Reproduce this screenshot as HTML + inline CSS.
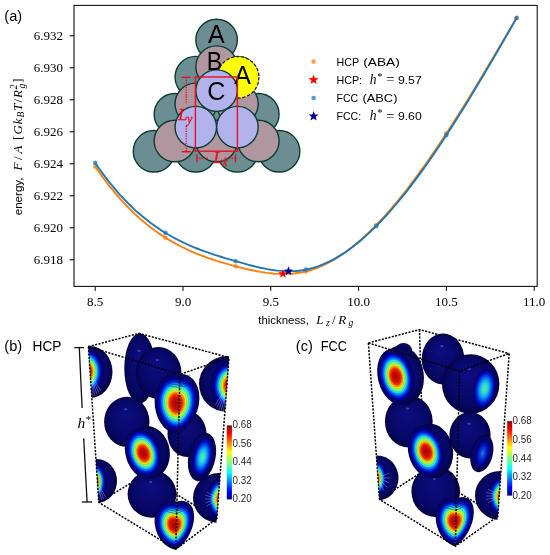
<!DOCTYPE html>
<html><head><meta charset="utf-8"><title>figure</title>
<style>html,body{margin:0;padding:0;background:#fff}svg{display:block}</style>
</head><body>
<svg width="550" height="555" viewBox="0 0 550 555">
<defs>
<radialGradient id="nv" cx="0.5" cy="0.5" r="0.5" fx="0.45" fy="0.32">
<stop offset="0" stop-color="#0e0e82"/><stop offset="0.4" stop-color="#0a0a74"/><stop offset="0.78" stop-color="#070766"/><stop offset="1" stop-color="#030344"/>
</radialGradient>
<radialGradient id="jet" cx="0.5" cy="0.5" r="0.5">
<stop offset="0" stop-color="#a80000"/><stop offset="0.17" stop-color="#d00c00"/><stop offset="0.28" stop-color="#f42800"/><stop offset="0.345" stop-color="#ff8c00"/><stop offset="0.415" stop-color="#f0f000"/><stop offset="0.495" stop-color="#80ff80"/><stop offset="0.585" stop-color="#20e0e8"/><stop offset="0.66" stop-color="#0080ff"/><stop offset="0.725" stop-color="#0030e8"/><stop offset="0.80" stop-color="#0000b0"/><stop offset="0.88" stop-color="#04046c"/><stop offset="1" stop-color="#040456"/>
</radialGradient>
<radialGradient id="jetc" cx="0.5" cy="0.5" r="0.5">
<stop offset="0" stop-color="#60e8a0"/><stop offset="0.22" stop-color="#30dcd0"/><stop offset="0.42" stop-color="#10a8f0"/><stop offset="0.6" stop-color="#0058ec"/><stop offset="0.76" stop-color="#0014cc"/><stop offset="0.9" stop-color="#000090"/><stop offset="1" stop-color="#04045c"/>
</radialGradient>
<radialGradient id="jetb" cx="0.5" cy="0.5" r="0.5">
<stop offset="0" stop-color="#2080e0"/><stop offset="0.25" stop-color="#0848d8"/><stop offset="0.55" stop-color="#0018c0"/><stop offset="0.8" stop-color="#00008c"/><stop offset="1" stop-color="#04045c"/>
</radialGradient>
<linearGradient id="cbar" x1="0" y1="0" x2="0" y2="1">
<stop offset="0" stop-color="#800000"/><stop offset="0.11" stop-color="#ff0000"/><stop offset="0.36" stop-color="#ffff00"/><stop offset="0.5" stop-color="#80ff80"/><stop offset="0.64" stop-color="#00ffff"/><stop offset="0.89" stop-color="#0000ff"/><stop offset="1" stop-color="#000080"/>
</linearGradient>
</defs>
<defs><clipPath id="hc1"><polygon points="86.3,315.4 100.9,533.6 160.9,533.6 146.3,315.4"/></clipPath></defs>
<defs><clipPath id="hc2"><polygon points="231.4,325.3 214.4,550.8 154.4,550.8 171.4,325.3"/></clipPath></defs>
<defs><clipPath id="hc3"><polygon points="181.1,323.9 177.3,483.9 97.3,483.9 101.1,323.9"/></clipPath></defs>
<defs><clipPath id="hc4"><polygon points="181.1,323.9 177.3,483.9 257.3,483.9 261.1,323.9"/></clipPath></defs>
<defs><clipPath id="hc5"><polygon points="88.4,346.6 139.0,333.4 229.0,357.5 216.8,518.6 175.8,549.2 98.8,502.4"/></clipPath></defs>
<defs><clipPath id="hc6"><polygon points="178.2,445.6 174.5,605.6 94.5,605.6 98.2,445.6"/></clipPath></defs>
<defs><clipPath id="hc7"><polygon points="178.2,445.6 174.5,605.6 254.5,605.6 258.2,445.6"/></clipPath></defs>
<defs><clipPath id="fc1"><polygon points="366.2,311.7 381.7,530.7 441.7,530.7 426.2,311.7"/></clipPath></defs>
<defs><clipPath id="fc2"><polygon points="511.5,320.9 495.5,549.0 435.5,549.0 451.5,320.9"/></clipPath></defs>
<defs><clipPath id="fc3"><polygon points="368.4,343.0 419.5,329.6 509.2,353.5 497.8,516.4 455.3,546.2 379.5,499.4"/></clipPath></defs>
<defs><clipPath id="fc4"><polygon points="457.9,442.2 453.9,602.2 373.9,602.2 377.9,442.2"/></clipPath></defs>
<defs><clipPath id="fc5"><polygon points="457.9,442.2 453.9,602.2 533.9,602.2 537.9,442.2"/></clipPath></defs>
<rect width="550" height="555" fill="#fff"/>
<circle cx="95.2" cy="166.5" r="2.3" fill="#ff7f0e" fill-opacity="0.75"/>
<circle cx="165.4" cy="237.7" r="2.3" fill="#ff7f0e" fill-opacity="0.75"/>
<circle cx="235.7" cy="266.3" r="2.3" fill="#ff7f0e" fill-opacity="0.75"/>
<circle cx="305.9" cy="271.4" r="2.3" fill="#ff7f0e" fill-opacity="0.75"/>
<circle cx="376.2" cy="225.2" r="2.3" fill="#ff7f0e" fill-opacity="0.75"/>
<circle cx="446.4" cy="133.4" r="2.3" fill="#ff7f0e" fill-opacity="0.75"/>
<circle cx="516.6" cy="17.7" r="2.3" fill="#ff7f0e" fill-opacity="0.75"/>
<polyline points="95.2,166.5 98.7,171.6 102.2,176.5 105.7,181.2 109.2,185.8 112.8,190.1 116.3,194.3 119.8,198.4 123.3,202.3 126.8,206.0 130.3,209.5 133.8,213.0 137.3,216.2 140.9,219.4 144.4,222.3 147.9,225.2 151.4,227.9 154.9,230.6 158.4,233.1 161.9,235.4 165.4,237.7 169.0,239.9 172.5,241.9 176.0,243.9 179.5,245.7 183.0,247.5 186.5,249.2 190.0,250.8 193.5,252.4 197.0,253.8 200.6,255.2 204.1,256.5 207.6,257.8 211.1,259.0 214.6,260.2 218.1,261.3 221.6,262.4 225.1,263.4 228.7,264.4 232.2,265.4 235.7,266.3 239.2,267.2 242.7,268.1 246.2,269.0 249.7,269.8 253.2,270.5 256.8,271.2 260.3,271.9 263.8,272.4 267.3,272.9 270.8,273.3 274.3,273.7 277.8,273.9 281.3,274.0 284.8,274.0 288.4,273.9 291.9,273.7 295.4,273.3 298.9,272.8 302.4,272.2 305.9,271.4 309.4,270.5 312.9,269.3 316.5,268.1 320.0,266.7 323.5,265.1 327.0,263.4 330.5,261.6 334.0,259.6 337.5,257.4 341.0,255.2 344.6,252.7 348.1,250.2 351.6,247.5 355.1,244.7 358.6,241.8 362.1,238.7 365.6,235.5 369.1,232.2 372.6,228.8 376.2,225.2 379.7,221.5 383.2,217.7 386.7,213.8 390.2,209.8 393.7,205.7 397.2,201.5 400.7,197.2 404.3,192.8 407.8,188.3 411.3,183.7 414.8,179.0 418.3,174.3 421.8,169.4 425.3,164.5 428.8,159.5 432.4,154.4 435.9,149.2 439.4,144.0 442.9,138.7 446.4,133.4 449.9,128.0 453.4,122.5 456.9,117.0 460.4,111.4 464.0,105.8 467.5,100.2 471.0,94.5 474.5,88.7 478.0,82.9 481.5,77.1 485.0,71.3 488.5,65.4 492.1,59.5 495.6,53.6 499.1,47.6 502.6,41.7 506.1,35.7 509.6,29.7 513.1,23.7 516.6,17.7" fill="none" stroke="#ff7f0e" stroke-width="1.9" stroke-linejoin="round"/>
<circle cx="95.2" cy="162.9" r="2.3" fill="#1f77b4" fill-opacity="0.75"/>
<circle cx="165.4" cy="232.9" r="2.3" fill="#1f77b4" fill-opacity="0.75"/>
<circle cx="235.7" cy="261.2" r="2.3" fill="#1f77b4" fill-opacity="0.75"/>
<circle cx="305.9" cy="269.6" r="2.3" fill="#1f77b4" fill-opacity="0.75"/>
<circle cx="376.2" cy="226.1" r="2.3" fill="#1f77b4" fill-opacity="0.75"/>
<circle cx="446.4" cy="135.1" r="2.3" fill="#1f77b4" fill-opacity="0.75"/>
<circle cx="516.6" cy="18.0" r="2.3" fill="#1f77b4" fill-opacity="0.75"/>
<polyline points="95.2,162.9 98.7,168.0 102.2,172.9 105.7,177.6 109.2,182.1 112.8,186.4 116.3,190.6 119.8,194.6 123.3,198.4 126.8,202.0 130.3,205.5 133.8,208.9 137.3,212.1 140.9,215.1 144.4,218.0 147.9,220.8 151.4,223.5 154.9,226.0 158.4,228.4 161.9,230.7 165.4,232.9 169.0,235.0 172.5,237.0 176.0,238.9 179.5,240.7 183.0,242.4 186.5,244.0 190.0,245.6 193.5,247.1 197.0,248.5 200.6,249.9 204.1,251.2 207.6,252.4 211.1,253.6 214.6,254.8 218.1,255.9 221.6,257.0 225.1,258.1 228.7,259.1 232.2,260.2 235.7,261.2 239.2,262.2 242.7,263.2 246.2,264.2 249.7,265.1 253.2,266.0 256.8,266.9 260.3,267.7 263.8,268.4 267.3,269.1 270.8,269.7 274.3,270.2 277.8,270.6 281.3,270.9 284.8,271.1 288.4,271.2 291.9,271.1 295.4,271.0 298.9,270.7 302.4,270.2 305.9,269.6 309.4,268.8 312.9,267.9 316.5,266.8 320.0,265.6 323.5,264.2 327.0,262.6 330.5,260.9 334.0,259.1 337.5,257.1 341.0,254.9 344.6,252.7 348.1,250.2 351.6,247.7 355.1,245.0 358.6,242.2 362.1,239.2 365.6,236.1 369.1,232.9 372.6,229.6 376.2,226.1 379.7,222.5 383.2,218.8 386.7,215.0 390.2,211.1 393.7,207.0 397.2,202.9 400.7,198.6 404.3,194.3 407.8,189.8 411.3,185.3 414.8,180.6 418.3,175.9 421.8,171.1 425.3,166.2 428.8,161.2 432.4,156.1 435.9,151.0 439.4,145.7 442.9,140.5 446.4,135.1 449.9,129.7 453.4,124.2 456.9,118.7 460.4,113.1 464.0,107.4 467.5,101.7 471.0,95.9 474.5,90.1 478.0,84.3 481.5,78.4 485.0,72.5 488.5,66.5 492.1,60.6 495.6,54.5 499.1,48.5 502.6,42.4 506.1,36.3 509.6,30.2 513.1,24.1 516.6,18.0" fill="none" stroke="#1f77b4" stroke-width="1.9" stroke-linejoin="round"/>
<polygon points="282.90,268.90 284.11,272.14 287.56,272.29 284.86,274.44 285.78,277.76 282.90,275.86 280.02,277.76 280.94,274.44 278.24,272.29 281.69,272.14" fill="#ff0000"/>
<polygon points="288.50,266.30 289.71,269.54 293.16,269.69 290.46,271.84 291.38,275.16 288.50,273.26 285.62,275.16 286.54,271.84 283.84,269.69 287.29,269.54" fill="#00008b"/>
<rect x="74.0" y="5.4" width="463.20000000000005" height="281.0" fill="none" stroke="#111" stroke-width="1.1"/>
<line x1="69.5" y1="259.8" x2="74.0" y2="259.8" stroke="#000" stroke-width="1"/>
<text x="63" y="264.3" text-anchor="end" font-family="Liberation Serif, serif" font-size="13">6.918</text>
<line x1="69.5" y1="227.8" x2="74.0" y2="227.8" stroke="#000" stroke-width="1"/>
<text x="63" y="232.3" text-anchor="end" font-family="Liberation Serif, serif" font-size="13">6.920</text>
<line x1="69.5" y1="195.8" x2="74.0" y2="195.8" stroke="#000" stroke-width="1"/>
<text x="63" y="200.3" text-anchor="end" font-family="Liberation Serif, serif" font-size="13">6.922</text>
<line x1="69.5" y1="163.8" x2="74.0" y2="163.8" stroke="#000" stroke-width="1"/>
<text x="63" y="168.3" text-anchor="end" font-family="Liberation Serif, serif" font-size="13">6.924</text>
<line x1="69.5" y1="131.8" x2="74.0" y2="131.8" stroke="#000" stroke-width="1"/>
<text x="63" y="136.3" text-anchor="end" font-family="Liberation Serif, serif" font-size="13">6.926</text>
<line x1="69.5" y1="99.8" x2="74.0" y2="99.8" stroke="#000" stroke-width="1"/>
<text x="63" y="104.3" text-anchor="end" font-family="Liberation Serif, serif" font-size="13">6.928</text>
<line x1="69.5" y1="67.8" x2="74.0" y2="67.8" stroke="#000" stroke-width="1"/>
<text x="63" y="72.3" text-anchor="end" font-family="Liberation Serif, serif" font-size="13">6.930</text>
<line x1="69.5" y1="35.8" x2="74.0" y2="35.8" stroke="#000" stroke-width="1"/>
<text x="63" y="40.3" text-anchor="end" font-family="Liberation Serif, serif" font-size="13">6.932</text>
<line x1="95.2" y1="286.4" x2="95.2" y2="290.9" stroke="#000" stroke-width="1"/>
<text x="95.2" y="305.8" text-anchor="middle" font-family="Liberation Serif, serif" font-size="13">8.5</text>
<line x1="183.0" y1="286.4" x2="183.0" y2="290.9" stroke="#000" stroke-width="1"/>
<text x="183.0" y="305.8" text-anchor="middle" font-family="Liberation Serif, serif" font-size="13">9.0</text>
<line x1="270.8" y1="286.4" x2="270.8" y2="290.9" stroke="#000" stroke-width="1"/>
<text x="270.8" y="305.8" text-anchor="middle" font-family="Liberation Serif, serif" font-size="13">9.5</text>
<line x1="358.6" y1="286.4" x2="358.6" y2="290.9" stroke="#000" stroke-width="1"/>
<text x="358.6" y="305.8" text-anchor="middle" font-family="Liberation Serif, serif" font-size="13">10.0</text>
<line x1="446.4" y1="286.4" x2="446.4" y2="290.9" stroke="#000" stroke-width="1"/>
<text x="446.4" y="305.8" text-anchor="middle" font-family="Liberation Serif, serif" font-size="13">10.5</text>
<line x1="534.2" y1="286.4" x2="534.2" y2="290.9" stroke="#000" stroke-width="1"/>
<text x="534.2" y="305.8" text-anchor="middle" font-family="Liberation Serif, serif" font-size="13">11.0</text>
<text x="258.3" y="324.4" font-family="Liberation Sans, sans-serif" font-size="11.4">thickness,</text>
<text x="316.3" y="324.4" font-family="Liberation Serif, serif" font-style="italic" font-size="13" textLength="37" lengthAdjust="spacing">L<tspan font-size="9.5" dy="2">z</tspan><tspan dy="-2" font-style="normal">/</tspan>R<tspan font-size="9.5" dy="2">g</tspan></text>
<g transform="translate(22.3,215.3) rotate(-90)"><text x="0" y="0" font-family="Liberation Sans, sans-serif" font-size="11.4" textLength="37.8" lengthAdjust="spacingAndGlyphs">energy,</text><text x="44.7" y="0" font-family="Liberation Serif, serif" font-style="italic" font-size="13" textLength="25" lengthAdjust="spacing">F<tspan font-style="normal">/</tspan>A</text><text x="75.4" y="0" font-family="Liberation Serif, serif" font-style="italic" font-size="13" textLength="61.5" lengthAdjust="spacing"><tspan font-style="normal">[</tspan>Gk<tspan font-size="9.5" dy="2">B</tspan><tspan dy="-2">T</tspan><tspan font-style="normal">/</tspan>R<tspan font-size="9.5" dy="-5.5">2</tspan><tspan font-size="9.5" dy="8.5" dx="-5">g</tspan><tspan dy="-3" font-style="normal">]</tspan></text></g>
<text x="4.3" y="20.5" font-family="Liberation Sans, sans-serif" font-size="14.6">(a)</text>
<text x="4.3" y="350.8" font-family="Liberation Sans, sans-serif" font-size="14.6">(b)</text>
<text x="32.5" y="350.8" font-family="Liberation Sans, sans-serif" font-size="14.2" textLength="29" lengthAdjust="spacingAndGlyphs">HCP</text>
<text x="295.8" y="350.8" font-family="Liberation Sans, sans-serif" font-size="14.6">(c)</text>
<text x="320.7" y="350.8" font-family="Liberation Sans, sans-serif" font-size="14.2" textLength="26.3" lengthAdjust="spacingAndGlyphs">FCC</text>
<circle cx="313.6" cy="61.6" r="2.3" fill="#ff7f0e" fill-opacity="0.75"/>
<polygon points="313.60,74.60 314.88,78.03 318.55,78.19 315.68,80.47 316.66,84.01 313.60,81.98 310.54,84.01 311.52,80.47 308.65,78.19 312.32,78.03" fill="#ff0000"/>
<circle cx="313.6" cy="98.0" r="2.3" fill="#1f77b4" fill-opacity="0.75"/>
<polygon points="313.60,111.00 314.88,114.43 318.55,114.59 315.68,116.87 316.66,120.41 313.60,118.38 310.54,120.41 311.52,116.87 308.65,114.59 312.32,114.43" fill="#00008b"/>
<text x="336.5" y="65.7" font-family="Liberation Sans, sans-serif" font-size="11.6" textLength="22.6" lengthAdjust="spacingAndGlyphs">HCP</text>
<text x="363.3" y="65.7" font-family="Liberation Sans, sans-serif" font-size="11.6" textLength="36.5" lengthAdjust="spacingAndGlyphs">(ABA)</text>
<text x="336.5" y="102.1" font-family="Liberation Sans, sans-serif" font-size="11.6" textLength="21.6" lengthAdjust="spacingAndGlyphs">FCC</text>
<text x="362.5" y="102.1" font-family="Liberation Sans, sans-serif" font-size="11.6" textLength="34.9" lengthAdjust="spacingAndGlyphs">(ABC)</text>
<text x="336.5" y="83.9" font-family="Liberation Sans, sans-serif" font-size="11.6" textLength="25.6" lengthAdjust="spacingAndGlyphs">HCP:</text>
<text x="369.8" y="83.9" font-family="Liberation Serif, serif" font-style="italic" font-size="13.6">h<tspan font-size="10.5" dy="-4" dx="0.6" font-style="normal">*</tspan></text>
<text x="386.3" y="84.4" font-family="Liberation Serif, serif" font-size="14.5">=</text>
<text x="397.9" y="83.9" font-family="Liberation Sans, sans-serif" font-size="11.6" textLength="23.8" lengthAdjust="spacingAndGlyphs">9.57</text>
<text x="336.5" y="120.3" font-family="Liberation Sans, sans-serif" font-size="11.6" textLength="24.7" lengthAdjust="spacingAndGlyphs">FCC:</text>
<text x="369.8" y="120.3" font-family="Liberation Serif, serif" font-style="italic" font-size="13.6">h<tspan font-size="10.5" dy="-4" dx="0.6" font-style="normal">*</tspan></text>
<text x="386.3" y="120.8" font-family="Liberation Serif, serif" font-size="14.5">=</text>
<text x="397.9" y="120.3" font-family="Liberation Sans, sans-serif" font-size="11.6" textLength="23.8" lengthAdjust="spacingAndGlyphs">9.60</text>
<circle cx="216.6" cy="40.0" r="20.75" fill="#6c8d91" stroke="#0b3d33" stroke-width="1.4" />
<circle cx="195.8" cy="77.1" r="20.75" fill="#6c8d91" stroke="#0b3d33" stroke-width="1.4" />
<circle cx="237.4" cy="77.1" r="20.75" fill="#6c8d91" stroke="#0b3d33" stroke-width="1.4" />
<circle cx="174.9" cy="114.2" r="20.75" fill="#6c8d91" stroke="#0b3d33" stroke-width="1.4" />
<circle cx="216.6" cy="114.2" r="20.75" fill="#6c8d91" stroke="#0b3d33" stroke-width="1.4" />
<circle cx="258.3" cy="114.2" r="20.75" fill="#6c8d91" stroke="#0b3d33" stroke-width="1.4" />
<circle cx="154.0" cy="151.3" r="20.75" fill="#6c8d91" stroke="#0b3d33" stroke-width="1.4" />
<circle cx="195.8" cy="151.3" r="20.75" fill="#6c8d91" stroke="#0b3d33" stroke-width="1.4" />
<circle cx="237.4" cy="151.3" r="20.75" fill="#6c8d91" stroke="#0b3d33" stroke-width="1.4" />
<circle cx="279.1" cy="151.3" r="20.75" fill="#6c8d91" stroke="#0b3d33" stroke-width="1.4" />
<circle cx="216.6" cy="66.6" r="20.75" fill="#b0969f" stroke="#0b3d33" stroke-width="1.4" />
<circle cx="195.8" cy="103.9" r="20.75" fill="#b0969f" stroke="#0b3d33" stroke-width="1.4" />
<circle cx="237.4" cy="103.9" r="20.75" fill="#b0969f" stroke="#0b3d33" stroke-width="1.4" />
<circle cx="174.9" cy="141.0" r="20.75" fill="#b0969f" stroke="#0b3d33" stroke-width="1.4" />
<circle cx="216.6" cy="141.0" r="20.75" fill="#b0969f" stroke="#0b3d33" stroke-width="1.4" />
<circle cx="258.3" cy="141.0" r="20.75" fill="#b0969f" stroke="#0b3d33" stroke-width="1.4" />
<circle cx="238.2" cy="77.3" r="20.75" fill="#ffff00" stroke="#111" stroke-width="1.2" stroke-dasharray="3.2,1.8"/>
<circle cx="216.6" cy="90.6" r="20.75" fill="#b2b2ec" stroke="#0b3d33" stroke-width="1.4" />
<circle cx="195.8" cy="127.1" r="20.75" fill="#b2b2ec" stroke="#0b3d33" stroke-width="1.4" />
<circle cx="237.4" cy="127.1" r="20.75" fill="#b2b2ec" stroke="#0b3d33" stroke-width="1.4" />
<text x="216.4" y="43.3" text-anchor="middle" font-family="Liberation Sans, sans-serif" font-size="25">A</text>
<text x="214.5" y="69.5" text-anchor="middle" font-family="Liberation Sans, sans-serif" font-size="25" textLength="15.5" lengthAdjust="spacingAndGlyphs">B</text>
<text x="242.5" y="84" text-anchor="middle" font-family="Liberation Sans, sans-serif" font-size="25">A</text>
<text x="216.4" y="100" text-anchor="middle" font-family="Liberation Sans, sans-serif" font-size="25">C</text>
<rect x="195.4" y="77.0" width="42" height="74.2" fill="none" stroke="#e81020" stroke-width="1.4"/>
<g stroke="#e81020" stroke-width="1.4" fill="none"><line x1="181.6" y1="77.4" x2="190.6" y2="77.4"/><line x1="181.8" y1="151.7" x2="190.8" y2="151.7"/><line x1="186.3" y1="77.4" x2="186.3" y2="104" stroke-dasharray="1.2,1.2"/><line x1="186.3" y1="126" x2="186.3" y2="151.7" stroke-dasharray="1.2,1.2"/><line x1="196.9" y1="154.3" x2="196.9" y2="162.3"/><line x1="235.6" y1="154.3" x2="235.6" y2="162.3"/><line x1="196.9" y1="158.2" x2="208" y2="158.2" stroke-dasharray="1.2,1.2"/><line x1="224.5" y1="158.2" x2="235.6" y2="158.2" stroke-dasharray="1.2,1.2"/></g>
<text x="178.3" y="119.5" font-family="Liberation Serif, serif" font-style="italic" font-size="16.5" fill="#e81020" stroke="#e81020" stroke-width="0.3">L<tspan font-size="12" dy="3.5" dx="-0.5">y</tspan></text>
<text x="213.6" y="163.4" font-family="Liberation Serif, serif" font-style="italic" font-size="16.5" fill="#e81020" stroke="#e81020" stroke-width="0.3">L<tspan font-size="12" dy="3" dx="-0.5">x</tspan></text>
<polyline points="98.8,502.4 144.2,475.0 216.8,518.6" fill="none" stroke="#000" stroke-width="1.5" stroke-dasharray="2.1,1.35"/>
<polyline points="139.0,333.4 144.2,475.0" fill="none" stroke="#000" stroke-width="1.5" stroke-dasharray="2.1,1.35"/>
<polyline points="88.4,346.6 139.0,333.4 229.0,357.5" fill="none" stroke="#000" stroke-width="1.5" stroke-dasharray="2.1,1.35"/>
<ellipse cx="139.8" cy="368.3" rx="15.5" ry="35" fill="url(#nv)" transform="rotate(0 139.8 368.3)"/>
<ellipse cx="139.0" cy="350.8" rx="1.6" ry="1.1" fill="#5a5ac0" opacity="0.7"/>
<ellipse cx="158.5" cy="373" rx="23" ry="26" fill="url(#nv)" transform="rotate(0 158.5 373)"/>
<ellipse cx="157.3" cy="360.0" rx="1.6" ry="1.1" fill="#5a5ac0" opacity="0.7"/>
<g clip-path="url(#hc1)">
<ellipse cx="90" cy="372" rx="22.5" ry="26" fill="url(#nv)" transform="rotate(0 90 372)"/>
<ellipse cx="86.3" cy="371.5" rx="18.2" ry="24.5" fill="url(#jet)" transform="rotate(0 86.3 371.5)"/>
<ellipse cx="86.3" cy="371.5" rx="3.64" ry="4.90" fill="none" stroke="#000040" stroke-opacity="0.22" stroke-width="0.5" transform="rotate(0 86.3 371.5)"/>
<ellipse cx="86.3" cy="371.5" rx="5.64" ry="7.59" fill="none" stroke="#000040" stroke-opacity="0.22" stroke-width="0.5" transform="rotate(0 86.3 371.5)"/>
<ellipse cx="86.3" cy="371.5" rx="6.92" ry="9.31" fill="none" stroke="#000040" stroke-opacity="0.22" stroke-width="0.5" transform="rotate(0 86.3 371.5)"/>
<ellipse cx="86.3" cy="371.5" rx="8.28" ry="11.15" fill="none" stroke="#000040" stroke-opacity="0.22" stroke-width="0.5" transform="rotate(0 86.3 371.5)"/>
<ellipse cx="86.3" cy="371.5" rx="9.83" ry="13.23" fill="none" stroke="#000040" stroke-opacity="0.22" stroke-width="0.5" transform="rotate(0 86.3 371.5)"/>
<ellipse cx="86.3" cy="371.5" rx="11.47" ry="15.44" fill="none" stroke="#000040" stroke-opacity="0.22" stroke-width="0.5" transform="rotate(0 86.3 371.5)"/>
<ellipse cx="86.3" cy="371.5" rx="13.10" ry="17.64" fill="none" stroke="#000040" stroke-opacity="0.22" stroke-width="0.5" transform="rotate(0 86.3 371.5)"/>
<line x1="93.3" y1="378.3" x2="100.6" y2="390.4" stroke="#fff" stroke-width="0.5" stroke-opacity="0.6"/>
<line x1="92.7" y1="379.1" x2="98.9" y2="392.7" stroke="#fff" stroke-width="0.5" stroke-opacity="0.6"/>
<line x1="92.1" y1="379.8" x2="97.0" y2="394.6" stroke="#fff" stroke-width="0.5" stroke-opacity="0.6"/>
<line x1="91.4" y1="380.3" x2="95.0" y2="396.1" stroke="#fff" stroke-width="0.5" stroke-opacity="0.6"/>
<line x1="90.6" y1="380.6" x2="92.8" y2="397.0" stroke="#fff" stroke-width="0.5" stroke-opacity="0.6"/>
</g>
<g clip-path="url(#hc2)">
<ellipse cx="227" cy="384" rx="28" ry="28" fill="url(#nv)" transform="rotate(0 227 384)"/>
<ellipse cx="230.8" cy="385.5" rx="20.5" ry="25.5" fill="url(#jet)" transform="rotate(0 230.8 385.5)"/>
<ellipse cx="230.8" cy="385.5" rx="4.10" ry="5.10" fill="none" stroke="#000040" stroke-opacity="0.22" stroke-width="0.5" transform="rotate(0 230.8 385.5)"/>
<ellipse cx="230.8" cy="385.5" rx="6.35" ry="7.91" fill="none" stroke="#000040" stroke-opacity="0.22" stroke-width="0.5" transform="rotate(0 230.8 385.5)"/>
<ellipse cx="230.8" cy="385.5" rx="7.79" ry="9.69" fill="none" stroke="#000040" stroke-opacity="0.22" stroke-width="0.5" transform="rotate(0 230.8 385.5)"/>
<ellipse cx="230.8" cy="385.5" rx="9.33" ry="11.60" fill="none" stroke="#000040" stroke-opacity="0.22" stroke-width="0.5" transform="rotate(0 230.8 385.5)"/>
<ellipse cx="230.8" cy="385.5" rx="11.07" ry="13.77" fill="none" stroke="#000040" stroke-opacity="0.22" stroke-width="0.5" transform="rotate(0 230.8 385.5)"/>
<ellipse cx="230.8" cy="385.5" rx="12.92" ry="16.07" fill="none" stroke="#000040" stroke-opacity="0.22" stroke-width="0.5" transform="rotate(0 230.8 385.5)"/>
<ellipse cx="230.8" cy="385.5" rx="14.76" ry="18.36" fill="none" stroke="#000040" stroke-opacity="0.22" stroke-width="0.5" transform="rotate(0 230.8 385.5)"/>
<line x1="223.2" y1="392.7" x2="215.3" y2="404.9" stroke="#fff" stroke-width="0.5" stroke-opacity="0.6"/>
<line x1="223.8" y1="393.6" x2="217.0" y2="407.4" stroke="#fff" stroke-width="0.5" stroke-opacity="0.6"/>
<line x1="224.5" y1="394.3" x2="219.0" y2="409.6" stroke="#fff" stroke-width="0.5" stroke-opacity="0.6"/>
<line x1="225.3" y1="394.9" x2="221.1" y2="411.2" stroke="#fff" stroke-width="0.5" stroke-opacity="0.6"/>
<line x1="226.0" y1="395.3" x2="223.4" y2="412.4" stroke="#fff" stroke-width="0.5" stroke-opacity="0.6"/>
</g>
<ellipse cx="187" cy="434" rx="19.5" ry="23" fill="url(#nv)" transform="rotate(0 187 434)"/>
<ellipse cx="186.0" cy="422.5" rx="1.6" ry="1.1" fill="#5a5ac0" opacity="0.7"/>
<ellipse cx="126.8" cy="421.8" rx="22.7" ry="25" fill="url(#nv)" transform="rotate(0 126.8 421.8)"/>
<ellipse cx="125.7" cy="409.3" rx="1.6" ry="1.1" fill="#5a5ac0" opacity="0.7"/>
<ellipse cx="152" cy="494" rx="24.4" ry="23.8" fill="url(#nv)" transform="rotate(0 152 494)"/>
<ellipse cx="150.8" cy="482.1" rx="1.6" ry="1.1" fill="#5a5ac0" opacity="0.7"/>
<ellipse cx="202" cy="457" rx="13.5" ry="24.5" fill="url(#nv)" transform="rotate(12 202 457)"/>
<ellipse cx="202.5" cy="457" rx="9.5" ry="20" fill="url(#jetc)" transform="rotate(12 202.5 457)"/>
<ellipse cx="148" cy="452.5" rx="21.8" ry="26.5" fill="url(#nv)" transform="rotate(-8 148 452.5)"/>
<ellipse cx="143.4" cy="453.2" rx="17.8" ry="26" fill="url(#jet)" transform="rotate(-17 143.4 453.2)"/>
<ellipse cx="143.4" cy="453.2" rx="3.56" ry="5.20" fill="none" stroke="#000040" stroke-opacity="0.22" stroke-width="0.5" transform="rotate(-17 143.4 453.2)"/>
<ellipse cx="143.4" cy="453.2" rx="5.52" ry="8.06" fill="none" stroke="#000040" stroke-opacity="0.22" stroke-width="0.5" transform="rotate(-17 143.4 453.2)"/>
<ellipse cx="143.4" cy="453.2" rx="6.76" ry="9.88" fill="none" stroke="#000040" stroke-opacity="0.22" stroke-width="0.5" transform="rotate(-17 143.4 453.2)"/>
<ellipse cx="143.4" cy="453.2" rx="8.10" ry="11.83" fill="none" stroke="#000040" stroke-opacity="0.22" stroke-width="0.5" transform="rotate(-17 143.4 453.2)"/>
<ellipse cx="143.4" cy="453.2" rx="9.61" ry="14.04" fill="none" stroke="#000040" stroke-opacity="0.22" stroke-width="0.5" transform="rotate(-17 143.4 453.2)"/>
<ellipse cx="143.4" cy="453.2" rx="11.21" ry="16.38" fill="none" stroke="#000040" stroke-opacity="0.22" stroke-width="0.5" transform="rotate(-17 143.4 453.2)"/>
<ellipse cx="143.4" cy="453.2" rx="12.82" ry="18.72" fill="none" stroke="#000040" stroke-opacity="0.22" stroke-width="0.5" transform="rotate(-17 143.4 453.2)"/>
<g clip-path="url(#hc1)">
<ellipse cx="97" cy="481" rx="20" ry="22" fill="url(#nv)" transform="rotate(0 97 481)"/>
<ellipse cx="94" cy="481.5" rx="13" ry="20" fill="url(#jet)" transform="rotate(0 94 481.5)"/>
<ellipse cx="94" cy="481.5" rx="2.60" ry="4.00" fill="none" stroke="#000040" stroke-opacity="0.22" stroke-width="0.5" transform="rotate(0 94 481.5)"/>
<ellipse cx="94" cy="481.5" rx="4.03" ry="6.20" fill="none" stroke="#000040" stroke-opacity="0.22" stroke-width="0.5" transform="rotate(0 94 481.5)"/>
<ellipse cx="94" cy="481.5" rx="4.94" ry="7.60" fill="none" stroke="#000040" stroke-opacity="0.22" stroke-width="0.5" transform="rotate(0 94 481.5)"/>
<ellipse cx="94" cy="481.5" rx="5.92" ry="9.10" fill="none" stroke="#000040" stroke-opacity="0.22" stroke-width="0.5" transform="rotate(0 94 481.5)"/>
<ellipse cx="94" cy="481.5" rx="7.02" ry="10.80" fill="none" stroke="#000040" stroke-opacity="0.22" stroke-width="0.5" transform="rotate(0 94 481.5)"/>
<ellipse cx="94" cy="481.5" rx="8.19" ry="12.60" fill="none" stroke="#000040" stroke-opacity="0.22" stroke-width="0.5" transform="rotate(0 94 481.5)"/>
<ellipse cx="94" cy="481.5" rx="9.36" ry="14.40" fill="none" stroke="#000040" stroke-opacity="0.22" stroke-width="0.5" transform="rotate(0 94 481.5)"/>
<line x1="100.4" y1="487.5" x2="105.2" y2="496.7" stroke="#fff" stroke-width="0.5" stroke-opacity="0.6"/>
<line x1="99.8" y1="488.2" x2="103.5" y2="498.6" stroke="#fff" stroke-width="0.5" stroke-opacity="0.6"/>
<line x1="99.0" y1="488.8" x2="101.6" y2="500.0" stroke="#fff" stroke-width="0.5" stroke-opacity="0.6"/>
</g>
<g clip-path="url(#hc2)">
<ellipse cx="219" cy="498" rx="26" ry="25" fill="url(#nv)" transform="rotate(0 219 498)"/>
<ellipse cx="222.3" cy="499" rx="16" ry="22" fill="url(#jet)" transform="rotate(0 222.3 499)"/>
<ellipse cx="222.3" cy="499" rx="3.20" ry="4.40" fill="none" stroke="#000040" stroke-opacity="0.22" stroke-width="0.5" transform="rotate(0 222.3 499)"/>
<ellipse cx="222.3" cy="499" rx="4.96" ry="6.82" fill="none" stroke="#000040" stroke-opacity="0.22" stroke-width="0.5" transform="rotate(0 222.3 499)"/>
<ellipse cx="222.3" cy="499" rx="6.08" ry="8.36" fill="none" stroke="#000040" stroke-opacity="0.22" stroke-width="0.5" transform="rotate(0 222.3 499)"/>
<ellipse cx="222.3" cy="499" rx="7.28" ry="10.01" fill="none" stroke="#000040" stroke-opacity="0.22" stroke-width="0.5" transform="rotate(0 222.3 499)"/>
<ellipse cx="222.3" cy="499" rx="8.64" ry="11.88" fill="none" stroke="#000040" stroke-opacity="0.22" stroke-width="0.5" transform="rotate(0 222.3 499)"/>
<ellipse cx="222.3" cy="499" rx="10.08" ry="13.86" fill="none" stroke="#000040" stroke-opacity="0.22" stroke-width="0.5" transform="rotate(0 222.3 499)"/>
<ellipse cx="222.3" cy="499" rx="11.52" ry="15.84" fill="none" stroke="#000040" stroke-opacity="0.22" stroke-width="0.5" transform="rotate(0 222.3 499)"/>
<line x1="214.7" y1="496.5" x2="206.9" y2="492.0" stroke="#fff" stroke-width="0.5" stroke-opacity="0.6"/>
<line x1="214.2" y1="497.7" x2="205.5" y2="495.4" stroke="#fff" stroke-width="0.5" stroke-opacity="0.6"/>
<line x1="214.0" y1="499.0" x2="205.0" y2="499.0" stroke="#fff" stroke-width="0.5" stroke-opacity="0.6"/>
<line x1="214.2" y1="500.3" x2="205.5" y2="502.6" stroke="#fff" stroke-width="0.5" stroke-opacity="0.6"/>
<line x1="214.7" y1="501.5" x2="206.9" y2="506.0" stroke="#fff" stroke-width="0.5" stroke-opacity="0.6"/>
</g>
<g clip-path="url(#hc3)"><g transform="matrix(21.300 2.982 -0.706 30.100 175.91 403.44)"><circle r="1" fill="url(#jet)"/><circle r="0.2" fill="none" stroke="#000040" stroke-opacity="0.22" stroke-width="0.5" vector-effect="non-scaling-stroke"/><circle r="0.31" fill="none" stroke="#000040" stroke-opacity="0.22" stroke-width="0.5" vector-effect="non-scaling-stroke"/><circle r="0.38" fill="none" stroke="#000040" stroke-opacity="0.22" stroke-width="0.5" vector-effect="non-scaling-stroke"/><circle r="0.455" fill="none" stroke="#000040" stroke-opacity="0.22" stroke-width="0.5" vector-effect="non-scaling-stroke"/><circle r="0.54" fill="none" stroke="#000040" stroke-opacity="0.22" stroke-width="0.5" vector-effect="non-scaling-stroke"/><circle r="0.63" fill="none" stroke="#000040" stroke-opacity="0.22" stroke-width="0.5" vector-effect="non-scaling-stroke"/><circle r="0.72" fill="none" stroke="#000040" stroke-opacity="0.22" stroke-width="0.5" vector-effect="non-scaling-stroke"/></g></g>
<g clip-path="url(#hc4)"><g transform="matrix(23.500 -6.110 -0.706 30.100 175.91 404.76)"><circle r="1" fill="url(#jet)"/><circle r="0.2" fill="none" stroke="#000040" stroke-opacity="0.22" stroke-width="0.5" vector-effect="non-scaling-stroke"/><circle r="0.31" fill="none" stroke="#000040" stroke-opacity="0.22" stroke-width="0.5" vector-effect="non-scaling-stroke"/><circle r="0.38" fill="none" stroke="#000040" stroke-opacity="0.22" stroke-width="0.5" vector-effect="non-scaling-stroke"/><circle r="0.455" fill="none" stroke="#000040" stroke-opacity="0.22" stroke-width="0.5" vector-effect="non-scaling-stroke"/><circle r="0.54" fill="none" stroke="#000040" stroke-opacity="0.22" stroke-width="0.5" vector-effect="non-scaling-stroke"/><circle r="0.63" fill="none" stroke="#000040" stroke-opacity="0.22" stroke-width="0.5" vector-effect="non-scaling-stroke"/><circle r="0.72" fill="none" stroke="#000040" stroke-opacity="0.22" stroke-width="0.5" vector-effect="non-scaling-stroke"/></g></g>
<polyline points="166.0,376.4 179.2,378.2 190.5,375.3" fill="none" stroke="#05055c" stroke-width="0.8" stroke-opacity="0.5"/>
<polyline points="166.6,378.7 179.2,380.5 189.9,377.7" fill="none" stroke="#05055c" stroke-width="0.8" stroke-opacity="0.5"/>
<polyline points="167.2,381.1 179.2,382.8 189.3,380.2" fill="none" stroke="#05055c" stroke-width="0.8" stroke-opacity="0.5"/>
<polyline points="167.8,383.5 179.2,385.1 188.7,382.6" fill="none" stroke="#05055c" stroke-width="0.8" stroke-opacity="0.5"/>
<polyline points="168.4,385.9 179.2,387.4 188.1,385.1" fill="none" stroke="#05055c" stroke-width="0.8" stroke-opacity="0.5"/>
<g clip-path="url(#hc6)"><g transform="matrix(19.600 4.900 -0.568 24.200 174.15 525.05)"><circle r="1" fill="url(#jet)"/><circle r="0.2" fill="none" stroke="#000040" stroke-opacity="0.22" stroke-width="0.5" vector-effect="non-scaling-stroke"/><circle r="0.31" fill="none" stroke="#000040" stroke-opacity="0.22" stroke-width="0.5" vector-effect="non-scaling-stroke"/><circle r="0.38" fill="none" stroke="#000040" stroke-opacity="0.22" stroke-width="0.5" vector-effect="non-scaling-stroke"/><circle r="0.455" fill="none" stroke="#000040" stroke-opacity="0.22" stroke-width="0.5" vector-effect="non-scaling-stroke"/><circle r="0.54" fill="none" stroke="#000040" stroke-opacity="0.22" stroke-width="0.5" vector-effect="non-scaling-stroke"/><circle r="0.63" fill="none" stroke="#000040" stroke-opacity="0.22" stroke-width="0.5" vector-effect="non-scaling-stroke"/><circle r="0.72" fill="none" stroke="#000040" stroke-opacity="0.22" stroke-width="0.5" vector-effect="non-scaling-stroke"/></g></g>
<g clip-path="url(#hc7)"><g transform="matrix(20.000 -9.200 -0.568 24.200 174.15 526.61)"><circle r="1" fill="url(#jet)"/><circle r="0.2" fill="none" stroke="#000040" stroke-opacity="0.22" stroke-width="0.5" vector-effect="non-scaling-stroke"/><circle r="0.31" fill="none" stroke="#000040" stroke-opacity="0.22" stroke-width="0.5" vector-effect="non-scaling-stroke"/><circle r="0.38" fill="none" stroke="#000040" stroke-opacity="0.22" stroke-width="0.5" vector-effect="non-scaling-stroke"/><circle r="0.455" fill="none" stroke="#000040" stroke-opacity="0.22" stroke-width="0.5" vector-effect="non-scaling-stroke"/><circle r="0.54" fill="none" stroke="#000040" stroke-opacity="0.22" stroke-width="0.5" vector-effect="non-scaling-stroke"/><circle r="0.63" fill="none" stroke="#000040" stroke-opacity="0.22" stroke-width="0.5" vector-effect="non-scaling-stroke"/><circle r="0.72" fill="none" stroke="#000040" stroke-opacity="0.22" stroke-width="0.5" vector-effect="non-scaling-stroke"/></g></g>
<polyline points="164.0,503.9 176.3,507.0 186.5,502.3" fill="none" stroke="#05055c" stroke-width="0.8" stroke-opacity="0.5"/>
<polyline points="164.6,506.4 176.3,509.3 185.9,504.9" fill="none" stroke="#05055c" stroke-width="0.8" stroke-opacity="0.5"/>
<polyline points="165.2,508.8 176.3,511.6 185.3,507.5" fill="none" stroke="#05055c" stroke-width="0.8" stroke-opacity="0.5"/>
<polyline points="165.8,511.3 176.3,513.9 184.7,510.0" fill="none" stroke="#05055c" stroke-width="0.8" stroke-opacity="0.5"/>
<polyline points="88.4,346.6 179.9,374.4 229.0,357.5" fill="none" stroke="#000" stroke-width="1.5" stroke-dasharray="2.1,1.35"/>
<polyline points="179.9,374.4 175.8,549.2" fill="none" stroke="#000" stroke-width="1.5" stroke-dasharray="2.1,1.35"/>
<polyline points="88.4,346.6 98.8,502.4 175.8,549.2 216.8,518.6 229.0,357.5" fill="none" stroke="#000" stroke-width="1.5" stroke-dasharray="2.1,1.35"/>
<g stroke="#111" stroke-width="1.3" fill="none"><line x1="74.3" y1="347.6" x2="84" y2="347.6"/><line x1="79.3" y1="347.6" x2="82.1" y2="408"/><line x1="83.7" y1="438.5" x2="87.1" y2="502"/><line x1="81.8" y1="502" x2="92" y2="502"/></g>
<text x="77.6" y="427.8" font-family="Liberation Serif, serif" font-style="italic" font-size="15.5">h<tspan font-size="11" dy="-4.5" dx="0.5" font-style="normal">*</tspan></text>
<rect x="226.8" y="425.4" width="5.1" height="74.0" fill="url(#cbar)"/>
<text x="232.6" y="428.2" font-family="Liberation Sans, sans-serif" font-size="10.1" fill="#2a2a2a" textLength="19.1" lengthAdjust="spacingAndGlyphs">0.68</text>
<text x="232.6" y="446.6" font-family="Liberation Sans, sans-serif" font-size="10.1" fill="#2a2a2a" textLength="19.1" lengthAdjust="spacingAndGlyphs">0.56</text>
<text x="232.6" y="465.3" font-family="Liberation Sans, sans-serif" font-size="10.1" fill="#2a2a2a" textLength="19.1" lengthAdjust="spacingAndGlyphs">0.44</text>
<text x="232.6" y="483.8" font-family="Liberation Sans, sans-serif" font-size="10.1" fill="#2a2a2a" textLength="19.1" lengthAdjust="spacingAndGlyphs">0.32</text>
<text x="232.6" y="502.3" font-family="Liberation Sans, sans-serif" font-size="10.1" fill="#2a2a2a" textLength="19.1" lengthAdjust="spacingAndGlyphs">0.20</text>
<polyline points="379.5,499.4 423.5,470.9 497.8,516.4" fill="none" stroke="#000" stroke-width="1.5" stroke-dasharray="2.1,1.35"/>
<polyline points="419.5,329.6 423.5,470.9" fill="none" stroke="#000" stroke-width="1.5" stroke-dasharray="2.1,1.35"/>
<polyline points="368.4,343.0 419.5,329.6 509.2,353.5" fill="none" stroke="#000" stroke-width="1.5" stroke-dasharray="2.1,1.35"/>
<ellipse cx="443" cy="359" rx="21.3" ry="25.5" fill="url(#nv)" transform="rotate(0 443 359)"/>
<ellipse cx="441.9" cy="346.2" rx="1.6" ry="1.1" fill="#5a5ac0" opacity="0.7"/>
<ellipse cx="470.7" cy="384" rx="28.7" ry="29.8" fill="url(#nv)" transform="rotate(0 470.7 384)"/>
<ellipse cx="469.3" cy="369.1" rx="1.6" ry="1.1" fill="#5a5ac0" opacity="0.7"/>
<ellipse cx="484.6" cy="388.6" rx="11" ry="20" fill="url(#jetc)" transform="rotate(10 484.6 388.6)"/>
<ellipse cx="470" cy="435.3" rx="20.6" ry="23.2" fill="url(#nv)" transform="rotate(0 470 435.3)"/>
<ellipse cx="469.0" cy="423.7" rx="1.6" ry="1.1" fill="#5a5ac0" opacity="0.7"/>
<ellipse cx="408.8" cy="421.5" rx="23.9" ry="26" fill="url(#nv)" transform="rotate(0 408.8 421.5)"/>
<ellipse cx="407.6" cy="408.5" rx="1.6" ry="1.1" fill="#5a5ac0" opacity="0.7"/>
<ellipse cx="403.5" cy="350.5" rx="8.5" ry="7.5" fill="url(#nv)" transform="rotate(0 403.5 350.5)"/>
<ellipse cx="402" cy="375.5" rx="21.8" ry="30" fill="url(#nv)" transform="rotate(-8 402 375.5)"/>
<ellipse cx="395.8" cy="376.5" rx="18" ry="28" fill="url(#jet)" transform="rotate(-13 395.8 376.5)"/>
<ellipse cx="395.8" cy="376.5" rx="3.60" ry="5.60" fill="none" stroke="#000040" stroke-opacity="0.22" stroke-width="0.5" transform="rotate(-13 395.8 376.5)"/>
<ellipse cx="395.8" cy="376.5" rx="5.58" ry="8.68" fill="none" stroke="#000040" stroke-opacity="0.22" stroke-width="0.5" transform="rotate(-13 395.8 376.5)"/>
<ellipse cx="395.8" cy="376.5" rx="6.84" ry="10.64" fill="none" stroke="#000040" stroke-opacity="0.22" stroke-width="0.5" transform="rotate(-13 395.8 376.5)"/>
<ellipse cx="395.8" cy="376.5" rx="8.19" ry="12.74" fill="none" stroke="#000040" stroke-opacity="0.22" stroke-width="0.5" transform="rotate(-13 395.8 376.5)"/>
<ellipse cx="395.8" cy="376.5" rx="9.72" ry="15.12" fill="none" stroke="#000040" stroke-opacity="0.22" stroke-width="0.5" transform="rotate(-13 395.8 376.5)"/>
<ellipse cx="395.8" cy="376.5" rx="11.34" ry="17.64" fill="none" stroke="#000040" stroke-opacity="0.22" stroke-width="0.5" transform="rotate(-13 395.8 376.5)"/>
<ellipse cx="395.8" cy="376.5" rx="12.96" ry="20.16" fill="none" stroke="#000040" stroke-opacity="0.22" stroke-width="0.5" transform="rotate(-13 395.8 376.5)"/>
<ellipse cx="435.7" cy="491.5" rx="24.3" ry="25.5" fill="url(#nv)" transform="rotate(0 435.7 491.5)"/>
<ellipse cx="434.5" cy="478.8" rx="1.6" ry="1.1" fill="#5a5ac0" opacity="0.7"/>
<ellipse cx="481.8" cy="453.5" rx="11" ry="19" fill="url(#nv)" transform="rotate(14 481.8 453.5)"/>
<ellipse cx="482.6" cy="453.3" rx="7.5" ry="15" fill="url(#jetb)" transform="rotate(14 482.6 453.3)"/>
<ellipse cx="431.5" cy="451" rx="21.5" ry="27.5" fill="url(#nv)" transform="rotate(-10 431.5 451)"/>
<ellipse cx="426.2" cy="451.6" rx="17.8" ry="26.3" fill="url(#jet)" transform="rotate(-15 426.2 451.6)"/>
<ellipse cx="426.2" cy="451.6" rx="3.56" ry="5.26" fill="none" stroke="#000040" stroke-opacity="0.22" stroke-width="0.5" transform="rotate(-15 426.2 451.6)"/>
<ellipse cx="426.2" cy="451.6" rx="5.52" ry="8.15" fill="none" stroke="#000040" stroke-opacity="0.22" stroke-width="0.5" transform="rotate(-15 426.2 451.6)"/>
<ellipse cx="426.2" cy="451.6" rx="6.76" ry="9.99" fill="none" stroke="#000040" stroke-opacity="0.22" stroke-width="0.5" transform="rotate(-15 426.2 451.6)"/>
<ellipse cx="426.2" cy="451.6" rx="8.10" ry="11.97" fill="none" stroke="#000040" stroke-opacity="0.22" stroke-width="0.5" transform="rotate(-15 426.2 451.6)"/>
<ellipse cx="426.2" cy="451.6" rx="9.61" ry="14.20" fill="none" stroke="#000040" stroke-opacity="0.22" stroke-width="0.5" transform="rotate(-15 426.2 451.6)"/>
<ellipse cx="426.2" cy="451.6" rx="11.21" ry="16.57" fill="none" stroke="#000040" stroke-opacity="0.22" stroke-width="0.5" transform="rotate(-15 426.2 451.6)"/>
<ellipse cx="426.2" cy="451.6" rx="12.82" ry="18.94" fill="none" stroke="#000040" stroke-opacity="0.22" stroke-width="0.5" transform="rotate(-15 426.2 451.6)"/>
<g clip-path="url(#fc1)">
<ellipse cx="377.5" cy="478" rx="21" ry="22.5" fill="url(#nv)" transform="rotate(0 377.5 478)"/>
<ellipse cx="374.5" cy="478.5" rx="13.5" ry="20.5" fill="url(#jet)" transform="rotate(0 374.5 478.5)"/>
<ellipse cx="374.5" cy="478.5" rx="2.70" ry="4.10" fill="none" stroke="#000040" stroke-opacity="0.22" stroke-width="0.5" transform="rotate(0 374.5 478.5)"/>
<ellipse cx="374.5" cy="478.5" rx="4.18" ry="6.35" fill="none" stroke="#000040" stroke-opacity="0.22" stroke-width="0.5" transform="rotate(0 374.5 478.5)"/>
<ellipse cx="374.5" cy="478.5" rx="5.13" ry="7.79" fill="none" stroke="#000040" stroke-opacity="0.22" stroke-width="0.5" transform="rotate(0 374.5 478.5)"/>
<ellipse cx="374.5" cy="478.5" rx="6.14" ry="9.33" fill="none" stroke="#000040" stroke-opacity="0.22" stroke-width="0.5" transform="rotate(0 374.5 478.5)"/>
<ellipse cx="374.5" cy="478.5" rx="7.29" ry="11.07" fill="none" stroke="#000040" stroke-opacity="0.22" stroke-width="0.5" transform="rotate(0 374.5 478.5)"/>
<ellipse cx="374.5" cy="478.5" rx="8.51" ry="12.92" fill="none" stroke="#000040" stroke-opacity="0.22" stroke-width="0.5" transform="rotate(0 374.5 478.5)"/>
<ellipse cx="374.5" cy="478.5" rx="9.72" ry="14.76" fill="none" stroke="#000040" stroke-opacity="0.22" stroke-width="0.5" transform="rotate(0 374.5 478.5)"/>
<line x1="382.2" y1="476.2" x2="389.3" y2="473.1" stroke="#fff" stroke-width="0.5" stroke-opacity="0.6"/>
<line x1="382.5" y1="478.0" x2="390.0" y2="478.0" stroke="#fff" stroke-width="0.5" stroke-opacity="0.6"/>
<line x1="382.2" y1="479.8" x2="389.3" y2="482.9" stroke="#fff" stroke-width="0.5" stroke-opacity="0.6"/>
<line x1="381.4" y1="481.5" x2="387.2" y2="487.3" stroke="#fff" stroke-width="0.5" stroke-opacity="0.6"/>
<line x1="380.2" y1="482.7" x2="384.0" y2="490.5" stroke="#fff" stroke-width="0.5" stroke-opacity="0.6"/>
</g>
<g clip-path="url(#fc2)">
<ellipse cx="500" cy="495.5" rx="25" ry="24.5" fill="url(#nv)" transform="rotate(0 500 495.5)"/>
<ellipse cx="503.3" cy="496.5" rx="15.5" ry="21.5" fill="url(#jet)" transform="rotate(0 503.3 496.5)"/>
<ellipse cx="503.3" cy="496.5" rx="3.10" ry="4.30" fill="none" stroke="#000040" stroke-opacity="0.22" stroke-width="0.5" transform="rotate(0 503.3 496.5)"/>
<ellipse cx="503.3" cy="496.5" rx="4.80" ry="6.67" fill="none" stroke="#000040" stroke-opacity="0.22" stroke-width="0.5" transform="rotate(0 503.3 496.5)"/>
<ellipse cx="503.3" cy="496.5" rx="5.89" ry="8.17" fill="none" stroke="#000040" stroke-opacity="0.22" stroke-width="0.5" transform="rotate(0 503.3 496.5)"/>
<ellipse cx="503.3" cy="496.5" rx="7.05" ry="9.78" fill="none" stroke="#000040" stroke-opacity="0.22" stroke-width="0.5" transform="rotate(0 503.3 496.5)"/>
<ellipse cx="503.3" cy="496.5" rx="8.37" ry="11.61" fill="none" stroke="#000040" stroke-opacity="0.22" stroke-width="0.5" transform="rotate(0 503.3 496.5)"/>
<ellipse cx="503.3" cy="496.5" rx="9.77" ry="13.54" fill="none" stroke="#000040" stroke-opacity="0.22" stroke-width="0.5" transform="rotate(0 503.3 496.5)"/>
<ellipse cx="503.3" cy="496.5" rx="11.16" ry="15.48" fill="none" stroke="#000040" stroke-opacity="0.22" stroke-width="0.5" transform="rotate(0 503.3 496.5)"/>
<line x1="495.7" y1="493.5" x2="487.9" y2="489.0" stroke="#fff" stroke-width="0.5" stroke-opacity="0.6"/>
<line x1="495.2" y1="494.7" x2="486.5" y2="492.4" stroke="#fff" stroke-width="0.5" stroke-opacity="0.6"/>
<line x1="495.0" y1="496.0" x2="486.0" y2="496.0" stroke="#fff" stroke-width="0.5" stroke-opacity="0.6"/>
<line x1="495.2" y1="497.3" x2="486.5" y2="499.6" stroke="#fff" stroke-width="0.5" stroke-opacity="0.6"/>
<line x1="495.7" y1="498.5" x2="487.9" y2="503.0" stroke="#fff" stroke-width="0.5" stroke-opacity="0.6"/>
</g>
<g clip-path="url(#fc4)"><g transform="matrix(18.700 5.423 -0.589 24.000 454.39 521.77)"><circle r="1" fill="url(#jet)"/><circle r="0.2" fill="none" stroke="#000040" stroke-opacity="0.22" stroke-width="0.5" vector-effect="non-scaling-stroke"/><circle r="0.31" fill="none" stroke="#000040" stroke-opacity="0.22" stroke-width="0.5" vector-effect="non-scaling-stroke"/><circle r="0.38" fill="none" stroke="#000040" stroke-opacity="0.22" stroke-width="0.5" vector-effect="non-scaling-stroke"/><circle r="0.455" fill="none" stroke="#000040" stroke-opacity="0.22" stroke-width="0.5" vector-effect="non-scaling-stroke"/><circle r="0.54" fill="none" stroke="#000040" stroke-opacity="0.22" stroke-width="0.5" vector-effect="non-scaling-stroke"/><circle r="0.63" fill="none" stroke="#000040" stroke-opacity="0.22" stroke-width="0.5" vector-effect="non-scaling-stroke"/><circle r="0.72" fill="none" stroke="#000040" stroke-opacity="0.22" stroke-width="0.5" vector-effect="non-scaling-stroke"/></g></g>
<g clip-path="url(#fc5)"><g transform="matrix(19.400 -10.282 -0.589 24.000 454.39 523.00)"><circle r="1" fill="url(#jet)"/><circle r="0.2" fill="none" stroke="#000040" stroke-opacity="0.22" stroke-width="0.5" vector-effect="non-scaling-stroke"/><circle r="0.31" fill="none" stroke="#000040" stroke-opacity="0.22" stroke-width="0.5" vector-effect="non-scaling-stroke"/><circle r="0.38" fill="none" stroke="#000040" stroke-opacity="0.22" stroke-width="0.5" vector-effect="non-scaling-stroke"/><circle r="0.455" fill="none" stroke="#000040" stroke-opacity="0.22" stroke-width="0.5" vector-effect="non-scaling-stroke"/><circle r="0.54" fill="none" stroke="#000040" stroke-opacity="0.22" stroke-width="0.5" vector-effect="non-scaling-stroke"/><circle r="0.63" fill="none" stroke="#000040" stroke-opacity="0.22" stroke-width="0.5" vector-effect="non-scaling-stroke"/><circle r="0.72" fill="none" stroke="#000040" stroke-opacity="0.22" stroke-width="0.5" vector-effect="non-scaling-stroke"/></g></g>
<polyline points="444.0,500.1 455.9,503.6 466.0,498.2" fill="none" stroke="#05055c" stroke-width="0.8" stroke-opacity="0.5"/>
<polyline points="444.6,502.6 455.9,505.9 465.4,500.9" fill="none" stroke="#05055c" stroke-width="0.8" stroke-opacity="0.5"/>
<polyline points="445.2,505.1 455.9,508.2 464.8,503.5" fill="none" stroke="#05055c" stroke-width="0.8" stroke-opacity="0.5"/>
<polyline points="445.8,507.6 455.9,510.5 464.2,506.1" fill="none" stroke="#05055c" stroke-width="0.8" stroke-opacity="0.5"/>
<polyline points="368.4,343.0 459.6,371.0 509.2,353.5" fill="none" stroke="#000" stroke-width="1.5" stroke-dasharray="2.1,1.35"/>
<polyline points="459.6,371.0 455.3,546.2" fill="none" stroke="#000" stroke-width="1.5" stroke-dasharray="2.1,1.35"/>
<polyline points="368.4,343.0 379.5,499.4 455.3,546.2 497.8,516.4 509.2,353.5" fill="none" stroke="#000" stroke-width="1.5" stroke-dasharray="2.1,1.35"/>
<rect x="507.2" y="421.1" width="5.0" height="74.5" fill="url(#cbar)"/>
<text x="512.6" y="423.9" font-family="Liberation Sans, sans-serif" font-size="10.1" fill="#2a2a2a" textLength="19.1" lengthAdjust="spacingAndGlyphs">0.68</text>
<text x="512.6" y="442.7" font-family="Liberation Sans, sans-serif" font-size="10.1" fill="#2a2a2a" textLength="19.1" lengthAdjust="spacingAndGlyphs">0.56</text>
<text x="512.6" y="461.6" font-family="Liberation Sans, sans-serif" font-size="10.1" fill="#2a2a2a" textLength="19.1" lengthAdjust="spacingAndGlyphs">0.44</text>
<text x="512.6" y="480.0" font-family="Liberation Sans, sans-serif" font-size="10.1" fill="#2a2a2a" textLength="19.1" lengthAdjust="spacingAndGlyphs">0.32</text>
<text x="512.6" y="498.7" font-family="Liberation Sans, sans-serif" font-size="10.1" fill="#2a2a2a" textLength="19.1" lengthAdjust="spacingAndGlyphs">0.20</text>
</svg>
</body></html>
